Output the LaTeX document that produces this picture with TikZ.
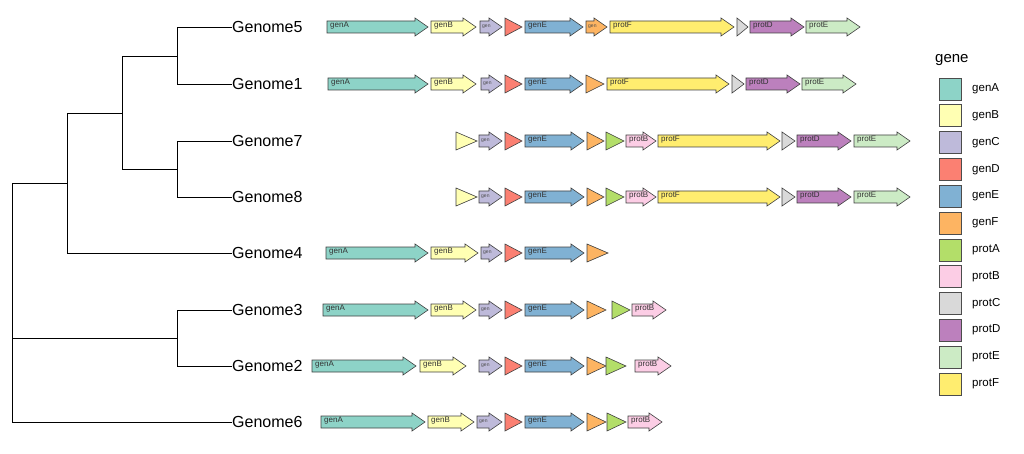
\documentclass[tikz,border=0pt]{standalone}
\usepackage{fontspec}
\setmainfont{Liberation Sans}
\definecolor{genA}{HTML}{8DD3C7}\definecolor{genB}{HTML}{FFFFB3}\definecolor{genC}{HTML}{BEBADA}
\definecolor{genD}{HTML}{FB8072}\definecolor{genE}{HTML}{80B1D3}\definecolor{genF}{HTML}{FDB462}
\definecolor{protA}{HTML}{B3DE69}\definecolor{protB}{HTML}{FCCDE5}\definecolor{protC}{HTML}{D9D9D9}
\definecolor{protD}{HTML}{BC80BD}\definecolor{protE}{HTML}{CCEBC5}\definecolor{protF}{HTML}{FFED6F}
\newcommand{\genearrow}[5]{%
  \pgfmathsetmacro{\hl}{min(13,#2-#1)}%
  \pgfmathsetmacro{\hx}{#2-\hl}%
  \draw[fill=#4,draw=black!75,line width=0.6pt] (#1,#3-6) -- (\hx,#3-6) -- (\hx,#3-9) -- (#2,#3) -- (\hx,#3+9) -- (\hx,#3+6) -- (#1,#3+6) -- cycle;
  \node[anchor=west,font=\fontsize{8}{8}\selectfont,inner sep=0pt,text=black!80] at (#1+3,#3-1) {#5};}
\newcommand{\tinygene}[4]{%
  \pgfmathsetmacro{\hl}{min(13,#2-#1)}%
  \pgfmathsetmacro{\hx}{#2-\hl}%
  \draw[fill=#4,draw=black!75,line width=0.6pt] (#1,#3-6) -- (\hx,#3-6) -- (\hx,#3-9) -- (#2,#3) -- (\hx,#3+9) -- (\hx,#3+6) -- (#1,#3+6) -- cycle;
  \node[anchor=west,font=\fontsize{5}{5}\selectfont,inner sep=0pt,text=black!70] at (#1+2,#3) {gen};}
\newcommand{\tri}[4]{%
  \draw[fill=#4,draw=black!75,line width=0.6pt] (#1,#3-9) -- (#2,#3) -- (#1,#3+9) -- cycle;}
\begin{document}
\begin{tikzpicture}[x=1pt,y=-1pt,
  lab/.style={anchor=west,font=\fontsize{16}{16}\selectfont,inner sep=0pt},
  tree/.style={line width=0.9pt}]
\useasboundingbox (0,0) rectangle (1024,454);
% tree
\foreach \n/\y in {5/27,1/84,7/141,8/197,4/253,3/310,2/366,6/422}
  \node[lab] (g\n) at (232,\y) {Genome\n};
\draw[tree] (g5.west) -- (177,27) -- (177,84) -- (g1.west);
\draw[tree] (g7.west) -- (177,141) -- (177,197) -- (g8.west);
\draw[tree] (177,56) -- (122,56) -- (122,169) -- (177,169);
\draw[tree] (122,113) -- (67,113) -- (67,253) -- (g4.west);
\draw[tree] (g3.west) -- (177,310) -- (177,366) -- (g2.west);
\draw[tree] (177,338) -- (12,338);
\draw[tree] (67,183) -- (12,183) -- (12,422) -- (g6.west);
% Genome5
\genearrow{327}{428}{27}{genA}{genA}\genearrow{431}{476}{27}{genB}{genB}\tinygene{480}{502}{27}{genC}
\tri{505}{522}{27}{genD}\genearrow{525}{583}{27}{genE}{genE}\tinygene{586}{607}{27}{genF}
\genearrow{610}{734}{27}{protF}{protF}\tri{737}{748}{27}{protC}\genearrow{750}{804}{27}{protD}{protD}\genearrow{806}{860}{27}{protE}{protE}
% Genome1
\genearrow{328}{428}{84}{genA}{genA}\genearrow{431}{476}{84}{genB}{genB}\tinygene{481}{502}{84}{genC}
\tri{505}{522}{84}{genD}\genearrow{525}{583}{84}{genE}{genE}\tri{586}{604}{84}{genF}
\genearrow{607}{729}{84}{protF}{protF}\tri{732}{744}{84}{protC}\genearrow{746}{800}{84}{protD}{protD}\genearrow{802}{856}{84}{protE}{protE}
% Genome7, 8
\foreach \y in {141,197}{
\tri{456}{477}{\y}{genB}\tinygene{479}{502}{\y}{genC}\tri{505}{522}{\y}{genD}\genearrow{525}{584}{\y}{genE}{genE}
\tri{587}{604}{\y}{genF}\tri{606}{624}{\y}{protA}\genearrow{626}{656}{\y}{protB}{protB}
\genearrow{658}{780}{\y}{protF}{protF}\tri{782}{795}{\y}{protC}\genearrow{797}{851}{\y}{protD}{protD}\genearrow{854}{910}{\y}{protE}{protE}}
% Genome4
\genearrow{326}{428}{253}{genA}{genA}\genearrow{431}{478}{253}{genB}{genB}\tinygene{481}{502}{253}{genC}
\tri{505}{522}{253}{genD}\genearrow{525}{584}{253}{genE}{genE}\tri{587}{608}{253}{genF}
% Genome3
\genearrow{323}{428}{310}{genA}{genA}\genearrow{431}{476}{310}{genB}{genB}\tinygene{479}{502}{310}{genC}
\tri{505}{522}{310}{genD}\genearrow{525}{584}{310}{genE}{genE}\tri{587}{606}{310}{genF}
\tri{612}{630}{310}{protA}\genearrow{632}{666}{310}{protB}{protB}
% Genome2
\genearrow{312}{416}{366}{genA}{genA}\genearrow{420}{466}{366}{genB}{genB}\tinygene{479}{502}{366}{genC}
\tri{505}{522}{366}{genD}\genearrow{525}{584}{366}{genE}{genE}\tri{587}{606}{366}{genF}
\tri{606}{626}{366}{protA}\genearrow{635}{671}{366}{protB}{protB}
% Genome6
\genearrow{321}{425}{422}{genA}{genA}\genearrow{428}{474}{422}{genB}{genB}\tinygene{477}{502}{422}{genC}
\tri{505}{522}{422}{genD}\genearrow{525}{584}{422}{genE}{genE}\tri{587}{606}{422}{genF}
\tri{607}{626}{422}{protA}\genearrow{628}{662}{422}{protB}{protB}
% legend
\node[anchor=west,font=\fontsize{15}{15}\selectfont,inner sep=0pt] (title) at (935,60) {gene};
\foreach \g [count=\i from 0] in {genA,genB,genC,genD,genE,genF,protA,protB,protC,protD,protE,protF}{
  \pgfmathsetmacro{\yy}{89+\i*26.8}
  \draw[fill=\g,draw=black!70,line width=0.6pt] (939,\yy-11) rectangle (961,\yy+11);
  \node[anchor=west,font=\fontsize{11.5}{11.5}\selectfont,inner sep=0pt] at (972,\yy) {\g};}
\end{tikzpicture}
\end{document}
